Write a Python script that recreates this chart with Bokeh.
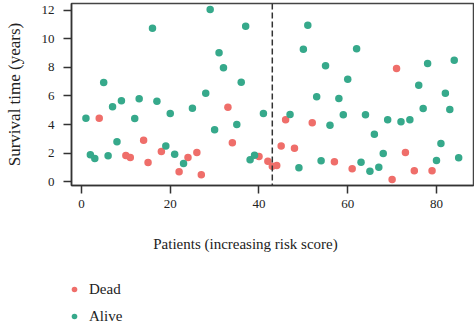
from bokeh.plotting import figure
from bokeh.layouts import column
from bokeh.models import (ColumnDataSource, Range1d, FixedTicker, Span, Label,
                          Legend, LegendItem)
from bokeh.embed import file_html
from bokeh.resources import INLINE

# ---- data ----
patient = list(range(1, 86))
survival_time = [
    4.44, 1.87, 1.61, 4.44, 6.95, 1.80, 5.24, 2.79, 5.66, 1.82,
    1.68, 4.42, 5.80, 2.90, 1.33, 10.76, 5.64, 2.11, 2.50, 4.77,
    1.92, 0.68, 1.26, 1.68, 5.14, 2.04, 0.47, 6.20, 12.07, 3.63,
    9.03, 7.98, 5.21, 2.72, 4.00, 6.97, 10.90, 1.52, 1.85, 1.75,
    4.77, 1.42, 1.07, 1.12, 2.50, 4.33, 4.70, 2.33, 0.96, 9.28,
    10.97, 4.12, 5.94, 1.45, 8.12, 3.95, 1.38, 5.82, 4.68, 7.18,
    0.89, 9.31, 1.35, 4.68, 0.72, 3.32, 1.00, 1.96, 4.33, 0.14,
    7.93, 4.19, 2.04, 4.33, 0.76, 6.76, 5.12, 8.28, 0.75, 1.47,
    2.67, 6.20, 5.05, 8.51, 1.66,
]
status = [
    "Alive", "Alive", "Alive", "Dead", "Alive", "Alive", "Alive", "Alive", "Alive", "Dead",
    "Dead", "Alive", "Alive", "Dead", "Dead", "Alive", "Alive", "Dead", "Alive", "Alive",
    "Alive", "Dead", "Alive", "Dead", "Alive", "Dead", "Dead", "Alive", "Alive", "Alive",
    "Alive", "Alive", "Dead", "Dead", "Alive", "Alive", "Alive", "Alive", "Alive", "Dead",
    "Alive", "Dead", "Dead", "Dead", "Dead", "Dead", "Alive", "Dead", "Alive", "Alive",
    "Alive", "Dead", "Alive", "Alive", "Alive", "Alive", "Dead", "Alive", "Alive", "Alive",
    "Dead", "Alive", "Alive", "Alive", "Alive", "Alive", "Alive", "Alive", "Alive", "Dead",
    "Dead", "Alive", "Dead", "Alive", "Dead", "Alive", "Alive", "Alive", "Dead", "Alive",
    "Alive", "Alive", "Alive", "Alive", "Alive",
]
groups = ["Dead", "Alive"]
group_colors = {"Dead": "#EF6E6A", "Alive": "#36A98B"}
risk_cutoff = 43
x_ticks = [0, 20, 40, 60, 80]
y_ticks = [0, 2, 4, 6, 8, 10, 12]
x_label = "Patients (increasing risk score)"
y_label = "Survival time (years)"

FONT = "Liberation Serif"
TEXT = "#222222"

sources = {}
for g in groups:
    sources[g] = ColumnDataSource(dict(
        x=[pt for pt, s in zip(patient, status) if s == g],
        y=[t for t, s in zip(survival_time, status) if s == g],
    ))

# ---- main scatter panel ----
p = figure(width=474, height=225, output_backend="svg", toolbar_location=None,
           x_range=Range1d(-2.25, 88.34), y_range=Range1d(-0.28, 12.49),
           min_border_left=71, min_border_right=1, min_border_top=3,
           min_border_bottom=40)
p.background_fill_color = "white"
p.border_fill_color = "white"
p.outline_line_color = "#444444"
p.outline_line_width = 1.5
p.xgrid.visible = False
p.ygrid.visible = False

for g in groups:
    p.scatter("x", "y", source=sources[g], size=7.5, fill_color=group_colors[g],
              line_color=None)

p.add_layout(Span(location=risk_cutoff, dimension="height", line_color="#333333",
                  line_width=1.5, line_dash="6 3"))

for ax in (p.xaxis[0], p.yaxis[0]):
    ax.axis_line_color = "#333333"
    ax.axis_line_width = 1.5
    ax.major_tick_line_color = "#333333"
    ax.major_tick_line_width = 1.5
    ax.major_tick_out = 8
    ax.major_tick_in = 0
    ax.minor_tick_line_color = None
    ax.major_label_text_font = FONT
    ax.major_label_text_font_size = "13px"
    ax.major_label_text_color = TEXT

p.xaxis.ticker = FixedTicker(ticks=x_ticks)
p.yaxis.ticker = FixedTicker(ticks=y_ticks)
p.xaxis.major_label_standoff = 6
p.yaxis.major_label_standoff = 9

p.yaxis.axis_label = y_label
p.yaxis.axis_label_text_font = FONT
p.yaxis.axis_label_text_font_size = "17px"
p.yaxis.axis_label_text_font_style = "normal"
p.yaxis.axis_label_text_color = TEXT
p.yaxis.axis_label_standoff = 15

# ---- lower panel: x-axis title and legend ----
q = figure(width=474, height=101, output_backend="svg", toolbar_location=None,
           x_range=Range1d(0, 474), y_range=Range1d(0, 101),
           x_axis_location=None, y_axis_location=None,
           min_border_left=0, min_border_right=0, min_border_top=0,
           min_border_bottom=0)
q.outline_line_color = None
q.xgrid.visible = False
q.ygrid.visible = False
q.background_fill_color = "white"
q.border_fill_color = "white"

# frames of the stacked panels are aligned, so positions are relative to x=71
q.add_layout(Label(x=174, y=83, x_units="screen", y_units="screen", text=x_label,
                   text_align="center", text_baseline="middle", text_font=FONT,
                   text_font_size="15px", text_color=TEXT))

items = []
for g in groups:
    proxy = q.scatter("x", "y", source=sources[g], size=6,
                      fill_color=group_colors[g], line_color=None, visible=False)
    items.append(LegendItem(label=g, renderers=[proxy]))

legend = Legend(items=items, location=(-4, 0), orientation="vertical",
                glyph_width=14, glyph_height=20, label_height=20, spacing=7,
                label_standoff=8, padding=0, margin=0,
                border_line_color=None, background_fill_alpha=0,
                label_text_font=FONT, label_text_font_size="15px",
                label_text_color=TEXT)
q.add_layout(legend)

layout = column(p, q, spacing=0)
open("out.html", "w").write(file_html(layout, INLINE))
